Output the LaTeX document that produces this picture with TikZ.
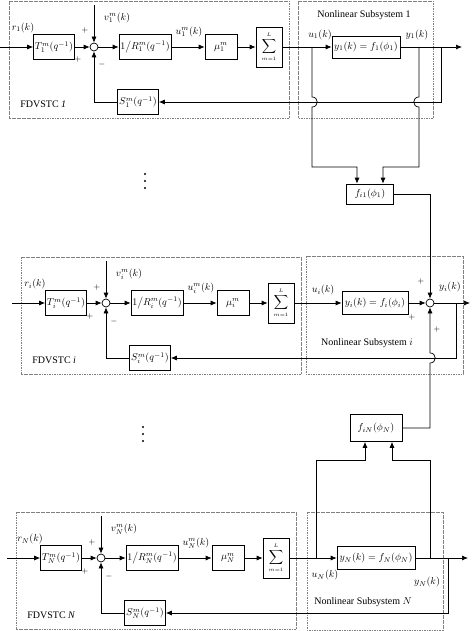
\documentclass[tikz,border=0pt]{standalone}
\usepackage{fontspec}
\setmainfont{Liberation Serif}
\usetikzlibrary{arrows.meta}

\begin{document}
\begin{tikzpicture}[
    x=1pt,y=-1pt,
    line width=0.7pt,
    >={Latex[length=6pt,width=5pt]},
    every node/.style={font=\normalsize},
    frame/.style={draw=black!50, dash pattern=on 1.6pt off 0.9pt, line width=0.8pt},
    blk/.style={draw, inner sep=0pt, minimum height=25pt},
    sumnode/.style={draw, circle, minimum size=8pt, inner sep=0pt},
    sign/.style={font=\footnotesize\bfseries, inner sep=0pt},
    lbl/.style={inner sep=0pt}
]
    \useasboundingbox (0,0) rectangle (474,631);

    \foreach \nm/\idx/\dx/\dy in {a/1/0/0, b/i/12/256, c/N/7/511} {
        \begin{scope}[shift={(\dx,\dy)}]
            \draw[frame] (9,1) rectangle (289,118);
            \coordinate (in\nm) at (0,47);
            \coordinate (v\nm) at (94,5);
            \node[blk, minimum width=41pt] (T\nm) at (54,47) {$T_{\idx}^{m}(q^{-1})$};
            \node[sumnode] (sum\nm) at (94,47) {};
            \node[blk, minimum width=52pt] (R\nm) at (145,47) {$1\big/R_{\idx}^{m}(q^{-1})$};
            \node[blk, minimum width=32pt] (mu\nm) at (221,47) {$\mu_{\idx}^{m}$};
            \node[blk, minimum width=26pt, minimum height=40pt] (sig\nm) at (269,47) {$\displaystyle\sum_{\scriptscriptstyle m=1}^{\scriptscriptstyle L}$};
            \node[blk, minimum width=41pt] (S\nm) at (138,102) {$S_{\idx}^{m}(q^{-1})$};
            \node[lbl] (r\nm) at (23,28) {$r_{\idx}(k)$};
            \node[lbl] (vl\nm) at (117,18) {$v_{\idx}^{m}(k)$};
            \node[lbl] (um\nm) at (189,32) {$u_{\idx}^{m}(k)$};
            \node[lbl, anchor=west] (fd\nm) at (20,104) {FDVSTC \textit{\idx}};
            \node[sign] (pt\nm) at (85,31) {$+$};
            \node[sign] (pb\nm) at (78,60) {$+$};
            \node[sign] (mn\nm) at (102,65) {$-$};
            \draw[->] (in\nm) -- (T\nm);
            \draw[->] (T\nm) -- (sum\nm);
            \draw[->] (v\nm) -- (sum\nm);
            \draw[->] (sum\nm) -- (R\nm);
            \draw[->] (R\nm) -- (mu\nm);
            \draw[->] (mu\nm) -- (sig\nm);
            \draw[->] (S\nm) -| (sum\nm);
        \end{scope}
    }

    \draw[frame] (298,1) rectangle (433,118);
    \node[lbl] (nla) at (364,15) {Nonlinear Subsystem 1};
    \node[blk, minimum width=68pt, minimum height=22pt] (ya) at (366,47) {$y_1(k)=f_1(\phi_1)$};
    \node[lbl] (ula) at (320,35) {$u_1(k)$};
    \node[lbl] (yla) at (417,35) {$y_1(k)$};
    \node[blk, minimum width=47pt, minimum height=20pt] (fa) at (370,194) {$f_{i1}(\phi_1)$};
    \coordinate (outa) at (462,47);
    \coordinate (uta) at (312,47);
    \coordinate (yta) at (419,47);
    \coordinate (fba) at (441,47);
    \draw[->] (siga) -- (ya);
    \draw[->] (ya) -- (outa);
    \draw[->] (fba) |- (Sa);
    \draw[->] (uta) -- (312,97) .. controls (319,97) and (319,107) .. (312,107) -- (312,167) -| ([xshift=-13pt]fa.north);
    \draw[->] (yta) -- (419,97) .. controls (412,97) and (412,107) .. (419,107) -- (419,167) -| ([xshift=13pt]fa.north);

    \draw[frame] (306,256) rectangle (463,374);
    \node[lbl] (nlb) at (367,343) {Nonlinear Subsystem $i$};
    \node[blk, minimum width=66pt, minimum height=23pt] (yb) at (375,303) {$y_i(k)=f_i(\phi_i)$};
    \node[sumnode] (jb) at (430,303) {};
    \node[lbl] (ulb) at (323,290) {$u_i(k)$};
    \node[lbl] (ylb) at (450,287) {$y_i(k)$};
    \node[sign] (jpt) at (421,281) {$+$};
    \node[sign] (jpl) at (412,317) {$+$};
    \node[sign] (jpr) at (437,329) {$+$};
    \coordinate (outb) at (470,303);
    \coordinate (fbb) at (456,303);
    \draw[->] (sigb) -- (yb);
    \draw[->] (yb) -- (jb);
    \draw[->] (jb) -- (outb);
    \draw[->] (fbb) |- (Sb);
    \draw[->] (fa) -| (jb);

    \draw[frame] (307,512) rectangle (443,630);
    \node[lbl] (nlc) at (363,602) {Nonlinear Subsystem $N$};
    \node[blk, minimum width=78pt, minimum height=23pt] (yc) at (376,558) {$y_N(k)=f_N(\phi_N)$};
    \node[lbl] (ulc) at (325,575) {$u_N(k)$};
    \node[lbl] (ylc) at (427,582) {$y_N(k)$};
    \node[blk, minimum width=52pt, minimum height=27pt] (fc) at (376,428) {$f_{iN}(\phi_N)$};
    \coordinate (outc) at (468,558);
    \coordinate (utc) at (316,558);
    \coordinate (ytc) at (430,558);
    \coordinate (fbc) at (448,558);
    \draw[->] (sigc) -- (yc);
    \draw[->] (yc) -- (outc);
    \draw[->] (fbc) |- (Sc);
    \draw[->] (utc) -- (316,460) -| ([xshift=-11pt]fc.south);
    \draw[->] (ytc) -- (430,460) -| ([xshift=16pt]fc.south);
    \draw[->] (fc) -| (430,363) .. controls (437,363) and (437,353) .. (430,353) -- (jb);

    \foreach \k in {1,2,3} {
        \fill (145,167+7*\k) circle (1.1pt);
        \fill (143,420+7*\k) circle (1.1pt);
    }
\end{tikzpicture}
\end{document}
